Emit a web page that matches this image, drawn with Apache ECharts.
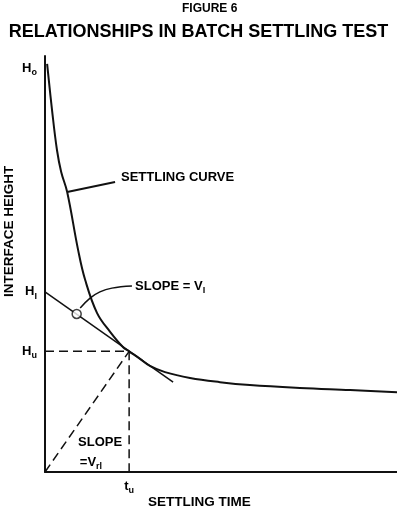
<!DOCTYPE html>
<html>
<head>
<meta charset="utf-8">
<script src="https://cdn.jsdelivr.net/npm/echarts@6/dist/echarts.min.js"></script>
<style>html,body{margin:0;padding:0;background:#fff}#c{width:397px;height:510px}</style>
</head>
<body>
<div id="c"></div>
<script>
// Settling curve (time, interface height) in arbitrary units
const times   = [0.06,0.20,0.34,0.46,0.63,0.94,1.14,1.48,1.85,2.22,2.39,2.70,2.98,3.41,4.12,4.97,5.82,7.24,8.67,10.0];
const heights = [9.81,8.70,7.74,7.21,6.73,5.34,4.62,3.82,3.37,3.00,2.90,2.72,2.55,2.40,2.26,2.16,2.09,2.02,1.97,1.92];

// Key values
const H1 = 4.33, Hu = 2.90, Ho = 9.71, tu = 2.39;
// tangent line (slope = V_I)
const tangentT = [0, 3.64];
const tangentH = [H1, 2.16];
// construction lines
const dashHorizT = [0, tu], dashHorizH = [Hu, Hu];
const dashVertT = [tu, tu], dashVertH = [Hu, 0];
const dashDiagT = [0, tu], dashDiagH = [0, Hu];
// marker on tangent line
const circleT = [0.90], circleH = [3.80];
// leader lines
const leaderCurveT = [0.63, 1.99], leaderCurveH = [6.73, 6.97];
const leaderSlopeT = [1.0, 1.28, 1.56, 1.90, 2.47], leaderSlopeH = [3.94, 4.18, 4.33, 4.42, 4.47];

// tick labels
const yTickValues = [Ho, H1, Hu];
const yTickLabels = ['{m|H}{s|o}', '{m|H}{s|I}', '{m|H}{s|u}'];
const xTickValues = [tu];
const xTickLabels = ['{m|t}{s|u}'];

// annotation texts
const noteTexts = ['SETTLING CURVE', '{m|SLOPE = V}{s|I}', 'SLOPE', '{m|=V}{s|rl}'];
const noteT = [2.16, 2.56, 0.94, 0.99];
const noteH = [7.09, 4.47, 0.70, 0.24];

const FONT = 'Liberation Sans';
const rich = {
  m: {fontFamily: FONT, fontWeight: 'bold', fontSize: 13, lineHeight: 18, color: '#000'},
  s: {fontFamily: FONT, fontWeight: 'bold', fontSize: 9, lineHeight: 10, verticalAlign: 'bottom', color: '#000'}
};
const zip = (a, b) => a.map((v, i) => [v, b[i]]);
const lineS = (name, t, h, opts) => Object.assign({
  type: 'line', name, data: zip(t, h), symbol: 'none', silent: true, animation: false,
  lineStyle: {color: '#111', width: 1.5}
}, opts || {});

const chart = echarts.init(document.getElementById('c'), null, {renderer: 'canvas'});
chart.setOption({
  backgroundColor: '#fff',
  animation: false,
  grid: {left: 45, right: 0, top: 56, bottom: 38},
  xAxis: {
    type: 'value', min: 0, max: 10,
    axisLine: {lineStyle: {color: '#111', width: 2}},
    axisTick: {show: false}, splitLine: {show: false},
    axisLabel: {customValues: xTickValues, margin: 5, formatter: v => xTickLabels[xTickValues.indexOf(v)] || '', rich}
  },
  yAxis: {
    type: 'value', min: 0, max: 10,
    axisLine: {show: true, lineStyle: {color: '#111', width: 2}},
    axisTick: {show: false}, splitLine: {show: false},
    axisLabel: {customValues: yTickValues, margin: 8, formatter: v => yTickLabels[yTickValues.indexOf(v)] || '', rich}
  },
  graphic: [
    {type: 'text', x: 182, y: 3, style: {text: 'FIGURE 6', font: 'bold 12px "Liberation Sans"', fill: '#000'}},
    {type: 'text', left: 'center', top: 23, style: {text: 'RELATIONSHIPS IN BATCH SETTLING TEST', font: 'bold 18px "Liberation Sans"', fill: '#000'}},
    {type: 'text', x: 148, y: 495, style: {text: 'SETTLING TIME', font: 'bold 13.5px "Liberation Sans"', fill: '#000'}},
    {type: 'text', x: 2, y: 297, rotation: Math.PI / 2, style: {text: 'INTERFACE HEIGHT', font: 'bold 13.5px "Liberation Sans"', fill: '#000'}}
  ],
  series: [
    lineS('curve', times, heights, {smooth: 0.4, lineStyle: {color: '#111', width: 2}}),
    lineS('tangent', tangentT, tangentH),
    lineS('hu', dashHorizT, dashHorizH, {lineStyle: {color: '#111', width: 1.5, type: [9, 5]}}),
    lineS('tu', dashVertT, dashVertH, {lineStyle: {color: '#111', width: 1.5, type: [9, 5]}}),
    lineS('diag', dashDiagT, dashDiagH, {lineStyle: {color: '#111', width: 1.5, type: [9, 5]}}),
    lineS('leader1', leaderCurveT, leaderCurveH, {lineStyle: {color: '#111', width: 2}}),
    lineS('leader2', leaderSlopeT, leaderSlopeH, {smooth: 0.4, lineStyle: {color: '#111', width: 1.5}}),
    {
      type: 'scatter', name: 'circle', data: zip(circleT, circleH), symbol: 'circle', symbolSize: 9, z: 5,
      itemStyle: {color: '#fff', borderColor: '#111', borderWidth: 1.5}, silent: true
    },
    {
      type: 'scatter', name: 'notes', symbolSize: 0, silent: true,
      data: noteT.map((t, i) => ({value: [t, noteH[i]], name: noteTexts[i]})),
      label: {show: true, position: 'right', distance: 0, formatter: p => p.name, rich,
              fontFamily: FONT, fontWeight: 'bold', fontSize: 13, color: '#000', opacity: 1, textBorderWidth: 0}
    }
  ]
});
</script>
</body>
</html>
